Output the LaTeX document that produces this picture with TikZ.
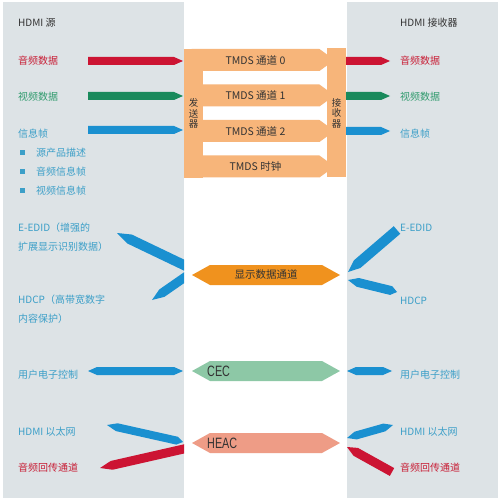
\documentclass[tikz,border=0pt]{standalone}
\usepackage{fontspec}
\setmainfont{Noto Sans CJK SC}
\newfontfamily\condfont[FakeStretch=0.72]{Liberation Sans}
\usetikzlibrary{calc,shapes.symbols}

\definecolor{panelgris}{HTML}{DDE3E6}
\definecolor{naranjaclaro}{HTML}{F7B57A}
\definecolor{naranja}{HTML}{F0921E}
\definecolor{verdeclaro}{HTML}{8DC8A6}
\definecolor{salmon}{HTML}{EE9C86}
\definecolor{rojo}{HTML}{CC1433}
\definecolor{verde}{HTML}{198A5C}
\definecolor{azul}{HTML}{1A90D0}
\definecolor{textoazul}{HTML}{3C9FC8}
\definecolor{textoverde}{HTML}{2E9A6C}
\definecolor{textorojo}{HTML}{C81D35}
\definecolor{textogris}{HTML}{333333}

\tikzset{
  etiqueta/.style={anchor=west, inner sep=0pt, font=\fontsize{10}{12}\selectfont},
  canal/.style={signal, signal to=east, signal pointer angle=72, fill=naranjaclaro,
    minimum width=143pt, minimum height=22pt, inner sep=0pt,
    font=\fontsize{10.5}{12}\selectfont, text=textogris},
  via/.style={signal, signal to=east and west, signal pointer angle=58,
    minimum width=148pt, minimum height=20pt, inner sep=0pt,
    font=\fontsize{10.5}{12}\selectfont, text=textogris},
  barra/.style={fill=naranjaclaro, inner sep=0pt, minimum width=19pt, minimum height=129pt,
    align=center, font=\fontsize{9.5}{10.5}\selectfont, text=textogris},
  vineta/.style={fill=textoazul, inner sep=0pt, minimum size=5pt},
  sigla/.style={anchor=west, inner sep=0pt, font=\condfont\fontsize{15}{16}\selectfont, text=textogris}
}

% aguja: [semiancho]{color}{desde}{hasta}{punta desde}{punta hasta}
\newcommand{\aguja}[6][4pt]{%
  \path ($(#3)!#5!(#4)$) coordinate (ag1) ($(#4)!#6!(#3)$) coordinate (ag2);
  \fill[#2] (#3) -- ($(ag1)!#1!90:(#4)$) -- ($(ag2)!#1!-90:(#3)$) -- (#4)
    -- ($(ag2)!#1!90:(#3)$) -- ($(ag1)!#1!-90:(#4)$) -- cycle;
}

\begin{document}
\begin{tikzpicture}[x=1pt,y=-1pt]
    \useasboundingbox (0,0) rectangle (500,502);
    \fill[white] (0,0) rectangle (500,502);

    % Paneles
    \fill[panelgris] (3,2) rectangle (184,498);
    \fill[panelgris] (347,2) rectangle (498,498);

    % Titulos
    \node[etiqueta, text=textogris] (fuente) at (18,23) {HDMI 源};
    \node[etiqueta, text=textogris] (receptor) at (400,23) {HDMI 接收器};

    % Etiquetas de la fuente
    \node[etiqueta, text=textorojo] (audioF) at (18,61) {音频数据};
    \node[etiqueta, text=textoverde] (videoF) at (18,97) {视频数据};
    \node[etiqueta, text=textoazul] (infoF) at (18,134) {信息帧};
    \node[vineta] (v1) at (22.5,153) {};
    \node[vineta] (v2) at (22.5,172) {};
    \node[vineta] (v3) at (22.5,191) {};
    \node[etiqueta, text=textoazul] (prod) at (36,153) {源产品描述};
    \node[etiqueta, text=textoazul] (infoA) at (36,172) {音频信息帧};
    \node[etiqueta, text=textoazul] (infoV) at (36,191) {视频信息帧};
    \node[etiqueta, text=textoazul] (edidF) at (18,228) {E-EDID（增强的};
    \node[etiqueta, text=textoazul] (edidF2) at (18,247) {扩展显示识别数据）};
    \node[etiqueta, text=textoazul] (hdcpF) at (18,300) {HDCP（高带宽数字};
    \node[etiqueta, text=textoazul] (hdcpF2) at (18,319) {内容保护）};
    \node[etiqueta, text=textoazul] (cecF) at (18,375) {用户电子控制};
    \node[etiqueta, text=textoazul] (ethF) at (18,432) {HDMI 以太网};
    \node[etiqueta, text=textorojo] (arcF) at (18,468) {音频回传通道};

    % Etiquetas del receptor
    \node[etiqueta, text=textorojo] (audioR) at (400,61) {音频数据};
    \node[etiqueta, text=textoverde] (videoR) at (400,97) {视频数据};
    \node[etiqueta, text=textoazul] (infoR) at (400,134) {信息帧};
    \node[etiqueta, text=textoazul] (edidR) at (400,228) {E-EDID};
    \node[etiqueta, text=textoazul] (hdcpR) at (400,301) {HDCP};
    \node[etiqueta, text=textoazul] (cecR) at (400,375) {用户电子控制};
    \node[etiqueta, text=textoazul] (ethR) at (400,432) {HDMI 以太网};
    \node[etiqueta, text=textorojo] (arcR) at (400,468) {音频回传通道};

    % Canales TMDS
    \node[canal] (tmds0) at (255.5,60) {TMDS 通道 0};
    \node[canal] (tmds1) at (255.5,95.5) {TMDS 通道 1};
    \node[canal] (tmds2) at (255.5,131) {TMDS 通道 2};
    \node[canal] (reloj) at (255.5,166.5) {TMDS 时钟};
    \node[barra] (emisor) at (193.5,113.5) {发\\送\\器};
    \node[barra] (recibe) at (336.5,113) {接\\收\\器};

    % Vias de control
    \node[via, fill=naranja] (ddc) at (266,275) {显示数据通道};
    \node[via, fill=verdeclaro] (cec) at (266,371) {};
    \node[via, fill=salmon] (heac) at (266,443) {};
    \node[sigla] (cecT) at (207,371) {CEC};
    \node[sigla] (heacT) at (207,443) {HEAC};

    % Puntos de las agujas
    \coordinate (a0) at (88,61);   \coordinate (a1) at (183,61);
    \coordinate (b0) at (88,96);   \coordinate (b1) at (183,96);
    \coordinate (c0) at (88,130);  \coordinate (c1) at (183,130);
    \coordinate (a2) at (346,61);  \coordinate (a3) at (390,61);
    \coordinate (b2) at (346,96);  \coordinate (b3) at (390,96);
    \coordinate (c2) at (346,131); \coordinate (c3) at (390,131);
    \coordinate (e0) at (117,233); \coordinate (e1) at (188,267);
    \coordinate (h0) at (152,300); \coordinate (h1) at (188,275);
    \coordinate (e2) at (348,272); \coordinate (e3) at (397,230);
    \coordinate (h2) at (348,280); \coordinate (h3) at (397,292);
    \coordinate (u0) at (88,371);  \coordinate (u1) at (183,371);
    \coordinate (u2) at (347,371); \coordinate (u3) at (392,371);
    \coordinate (n0) at (107,425); \coordinate (n1) at (183,442);
    \coordinate (r0) at (188,448); \coordinate (r1) at (100,468);
    \coordinate (n2) at (347,438); \coordinate (n3) at (393,425);
    \coordinate (r2) at (347,447); \coordinate (r3) at (392,472);

    % Flechas de datos
    \aguja{rojo}{a0}{a1}{0pt}{9pt}
    \aguja{verde}{b0}{b1}{0pt}{9pt}
    \aguja{azul}{c0}{c1}{0pt}{9pt}
    \aguja{rojo}{a2}{a3}{0pt}{9pt}
    \aguja{verde}{b2}{b3}{0pt}{9pt}
    \aguja{azul}{c2}{c3}{0pt}{9pt}

    % Agujas cortadas por el panel
    \begin{scope}
        \clip (3,2) rectangle (184,498);
        \aguja[5pt]{azul}{e0}{e1}{14pt}{0pt}
        \aguja[4.5pt]{azul}{h0}{h1}{12pt}{0pt}
        \aguja[4.5pt]{rojo}{r0}{r1}{0pt}{12pt}
    \end{scope}

    \aguja[5pt]{azul}{e2}{e3}{12pt}{0pt}
    \aguja[4.5pt]{azul}{h2}{h3}{10pt}{6pt}
    \aguja{azul}{u0}{u1}{9pt}{9pt}
    \aguja{azul}{u2}{u3}{9pt}{9pt}
    \aguja{azul}{n0}{n1}{10pt}{6pt}
    \aguja{azul}{n2}{n3}{9pt}{9pt}
    \aguja[4.5pt]{rojo}{r2}{r3}{10pt}{0pt}
\end{tikzpicture}
\end{document}
